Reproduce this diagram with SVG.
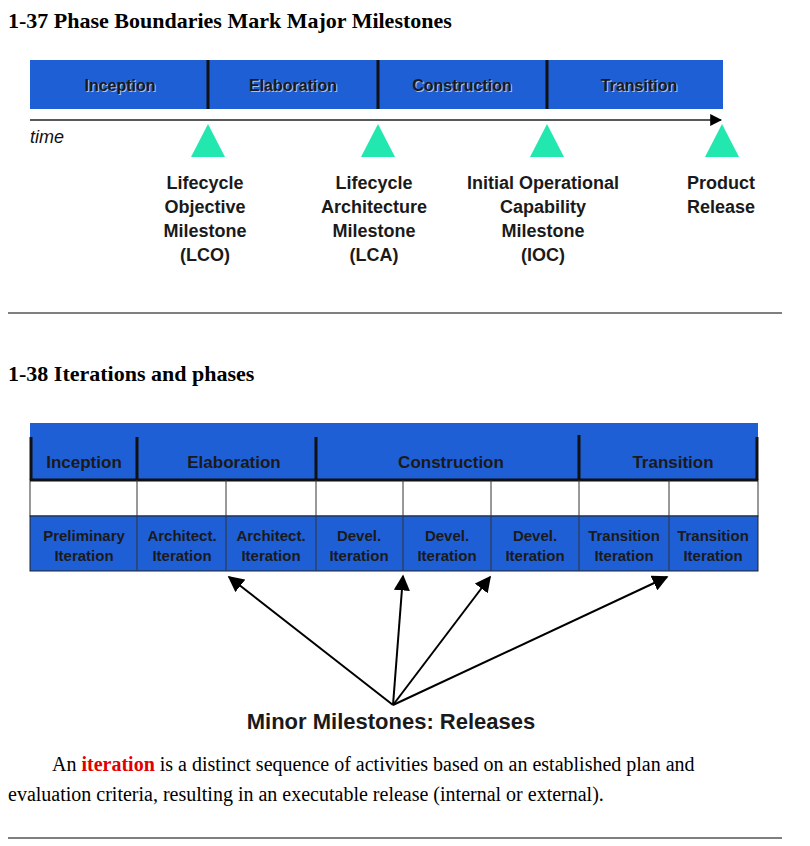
<svg xmlns="http://www.w3.org/2000/svg" width="810" height="846" viewBox="0 0 810 846">
<style>
.h{font-family:"Liberation Serif",serif;font-weight:bold;font-size:22px;fill:#000}
.b{font-family:"Liberation Sans",Arial,sans-serif;font-weight:bold;fill:#1a1a1a;text-anchor:middle}
.sh{fill:#fff;opacity:0.6}
.p{font-family:"Liberation Serif",serif;font-size:20px;fill:#000}
.bl{fill:#1f5fd6}
</style>
<defs>
<marker id="ah" viewBox="0 0 10 10" refX="9" refY="5" markerWidth="8" markerHeight="8" orient="auto"><path d="M0,0L10,5L0,10z" fill="#000"/></marker>
</defs>
<rect width="810" height="846" fill="#fff"/>
<text class="h" x="8" y="28">1-37 Phase Boundaries Mark Major Milestones</text>
<g id="phasebar">
<rect class="bl" x="30" y="60" width="693" height="49"/>
<g stroke="#111" stroke-width="3"><line x1="208" y1="60" x2="208" y2="109"/><line x1="378" y1="60" x2="378" y2="109"/><line x1="547" y1="60" x2="547" y2="109"/></g>
<g class="b" font-size="16">
<text class="sh" x="121" y="92">Inception</text><text x="120" y="91">Inception</text>
<text class="sh" x="294" y="92">Elaboration</text><text x="293" y="91">Elaboration</text>
<text class="sh" x="463" y="92">Construction</text><text x="462" y="91">Construction</text>
<text class="sh" x="640" y="92">Transition</text><text x="639" y="91">Transition</text>
</g>
</g>
<g id="timeline">
<line x1="30" y1="120" x2="721" y2="120" stroke="#222" stroke-width="1.5" marker-end="url(#ah)"/>
<text x="30" y="143" font-family="Liberation Sans,sans-serif" font-style="italic" font-size="18" fill="#111">time</text>
</g>
<g id="milestones" fill="#22e8b0">
<polygon points="208,124 225,157 191,157"/><polygon points="378,124 395,157 361,157"/><polygon points="547,124 564,157 530,157"/><polygon points="722,124 739,157 705,157"/>
</g>
<g class="b" font-size="18">
<text x="205" y="189">Lifecycle</text><text x="205" y="213">Objective</text><text x="205" y="237">Milestone</text><text x="205" y="261">(LCO)</text>
<text x="374" y="189">Lifecycle</text><text x="374" y="213">Architecture</text><text x="374" y="237">Milestone</text><text x="374" y="261">(LCA)</text>
<text x="543" y="189">Initial Operational</text><text x="543" y="213">Capability</text><text x="543" y="237">Milestone</text><text x="543" y="261">(IOC)</text>
<text x="721" y="189">Product</text><text x="721" y="213">Release</text>
</g>
<line x1="8" y1="313" x2="782" y2="313" stroke="#000"/>
<text class="h" x="8" y="381">1-38 Iterations and phases</text>
<g id="table">
<rect class="bl" x="30" y="423" width="728" height="57"/>
<rect x="30" y="480" width="728" height="36" fill="#fff" stroke="#333"/>
<rect class="bl" x="30" y="516" width="728" height="55" stroke="#222"/>
<g stroke="#111" stroke-width="3"><line x1="31" y1="437" x2="31" y2="480"/><line x1="137" y1="437" x2="137" y2="480"/><line x1="316" y1="437" x2="316" y2="480"/><line x1="579" y1="435" x2="579" y2="480"/><line x1="757" y1="437" x2="757" y2="480"/><line x1="30" y1="480" x2="758" y2="480"/></g>
<g stroke="#333" stroke-width="1"><line x1="137" y1="480" x2="137" y2="571"/><line x1="226" y1="480" x2="226" y2="571"/><line x1="316" y1="480" x2="316" y2="571"/><line x1="403" y1="480" x2="403" y2="571"/><line x1="491" y1="480" x2="491" y2="571"/><line x1="579" y1="480" x2="579" y2="571"/><line x1="669" y1="480" x2="669" y2="571"/></g>
<g class="b" font-size="17">
<text x="84" y="468">Inception</text><text x="234" y="468">Elaboration</text><text x="451" y="468">Construction</text><text x="673" y="468">Transition</text>
</g>
<g class="b" font-size="15">
<text x="84" y="541">Preliminary</text><text x="84" y="561">Iteration</text>
<text x="182" y="541">Architect.</text><text x="182" y="561">Iteration</text>
<text x="271" y="541">Architect.</text><text x="271" y="561">Iteration</text>
<text x="359" y="541">Devel.</text><text x="359" y="561">Iteration</text>
<text x="447" y="541">Devel.</text><text x="447" y="561">Iteration</text>
<text x="535" y="541">Devel.</text><text x="535" y="561">Iteration</text>
<text x="624" y="541">Transition</text><text x="624" y="561">Iteration</text>
<text x="713" y="541">Transition</text><text x="713" y="561">Iteration</text>
</g>
</g>
<g id="connectors" stroke="#000" stroke-width="2" marker-end="url(#ah)">
<line x1="393" y1="705" x2="229" y2="577"/><line x1="393" y1="705" x2="403" y2="576"/><line x1="393" y1="705" x2="490" y2="577"/><line x1="393" y1="705" x2="667" y2="577"/>
</g>
<text class="b" x="391" y="729" font-size="22">Minor Milestones:  Releases</text>
<text class="p" x="52" y="771">An <tspan fill="#e00000" font-weight="bold">iteration</tspan> is a distinct sequence of activities based on an established plan and</text>
<text class="p" x="8" y="801">evaluation criteria, resulting in an executable release (internal or external).</text>
<line x1="8" y1="838" x2="782" y2="838" stroke="#000"/>
</svg>
